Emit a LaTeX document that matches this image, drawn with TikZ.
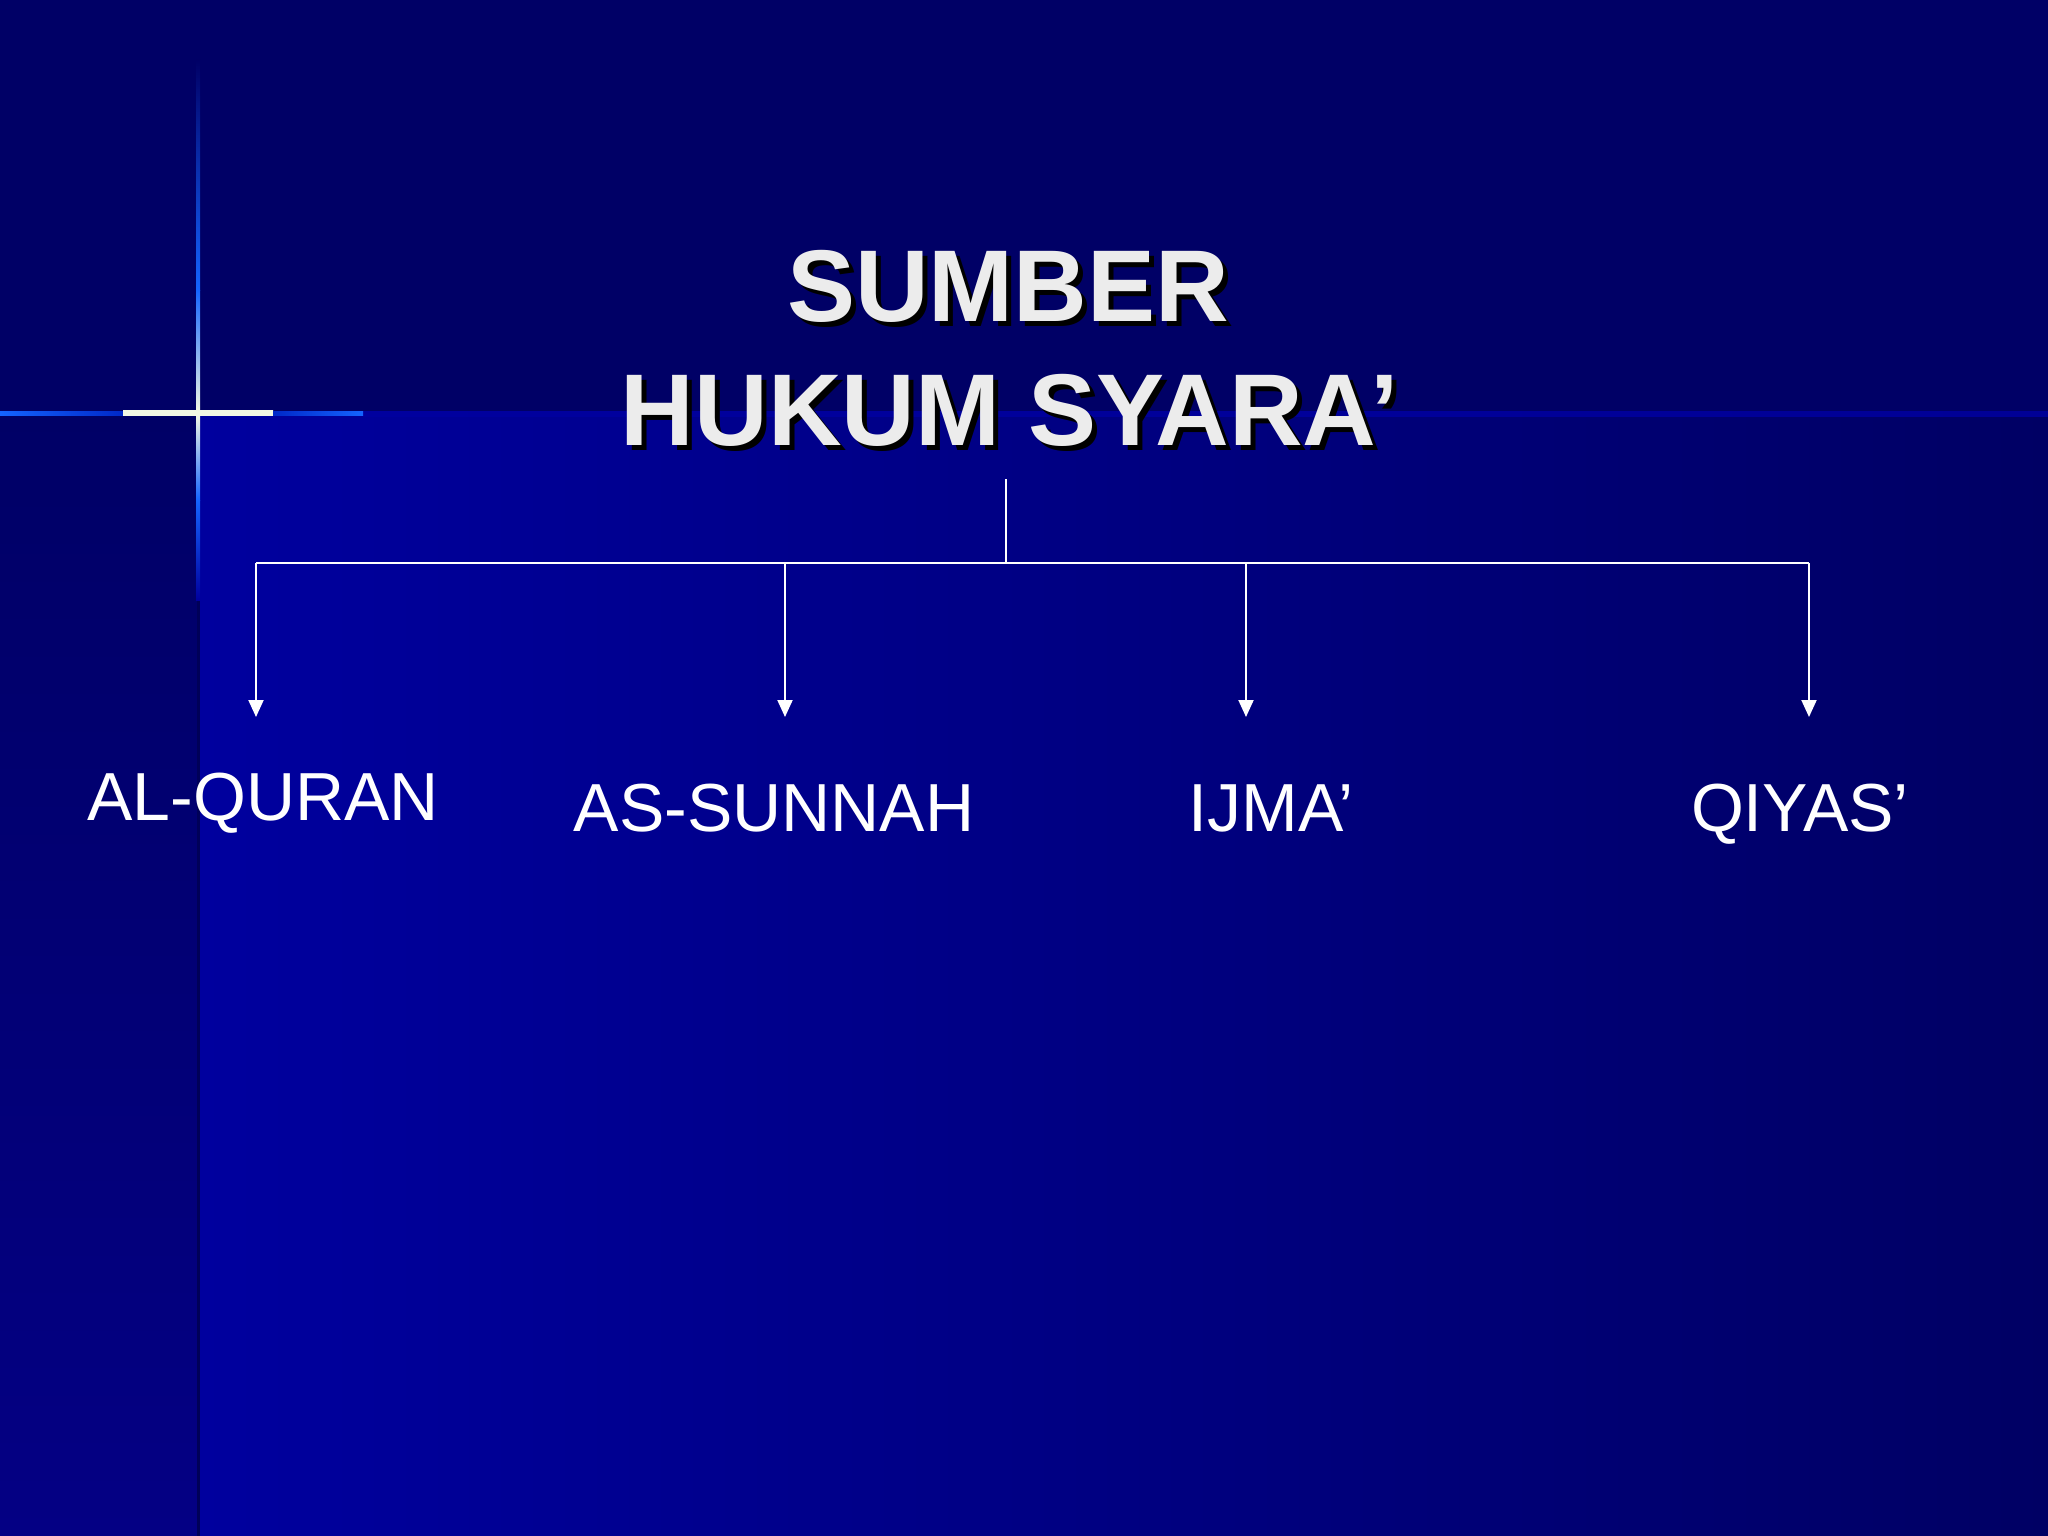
\documentclass[tikz,border=0pt]{standalone}
\usepackage{fontspec}
\setmainfont{Liberation Sans}
\usetikzlibrary{arrows.meta}
\definecolor{topnavy}{RGB}{0,0,102}
\definecolor{panelL}{RGB}{0,0,158}
\definecolor{panelM}{RGB}{0,0,140}
\definecolor{panelR}{RGB}{0,0,100}
\definecolor{stripB}{RGB}{4,0,132}
\definecolor{edgeline}{RGB}{0,0,150}
\definecolor{divline}{RGB}{0,0,88}
\definecolor{glow}{RGB}{20,100,255}
\definecolor{glowdim}{RGB}{0,40,200}
\definecolor{glowwhite}{RGB}{242,248,228}
\definecolor{titlewhite}{RGB}{236,236,236}
\newcommand\shadowed[1]{\rlap{\hspace{5pt}\raisebox{-5pt}{\color{black}#1}}#1}
\begin{document}
\begin{tikzpicture}[x=1pt,y=-1pt,
  titletext/.style={font=\fontsize{102}{124}\selectfont\bfseries, text=titlewhite, inner sep=0pt},
  labeltext/.style={font=\fontsize{68}{80}\selectfont, text=white, inner sep=0pt},
  conn/.style={draw=white, line width=2pt},
  arrowconn/.style={conn, -{Triangle[width=15pt,length=17pt]}}]
\useasboundingbox (0,0) rectangle (2048,1536);
% background
\fill[topnavy] (0,0) rectangle (2048,413);
\shade[top color=topnavy, bottom color=stripB] (0,413) rectangle (198,1536);
\shade[left color=panelL, middle color=panelM, right color=panelR] (198,413) rectangle (2048,1536);
\draw[line width=3pt, divline] (198,600) -- (198,1536);
\shade[left color=panelL, right color=edgeline] (363,411) rectangle (2048,416);
% glowing cross
\shade[left color=glow, right color=glowdim] (0,411) rectangle (123,415);
\shade[left color=glowwhite, middle color=glow!55!white, right color=glowwhite] (123,410.5) rectangle (273,415.5);
\shade[left color=glowdim, right color=glow] (273,411) rectangle (363,415);
\shade[top color=topnavy, bottom color=glow] (196,60) rectangle (200,290);
\shade[top color=glow, bottom color=glowwhite] (196,290) rectangle (200,411);
\shade[top color=glowwhite, bottom color=glow] (196,415) rectangle (200,500);
\shade[top color=glow, bottom color=panelL] (196,500) rectangle (200,600);
% title
\node[titletext, anchor=base] (title1) at (1008,321) {\shadowed{SUMBER}};
\node[titletext, anchor=base, inner ysep=28pt] (title2) at (1010,445) {\shadowed{HUKUM SYARA’}};
% labels
\node[labeltext, anchor=base] (alquran) at (263,820) {AL-QURAN};
\node[labeltext, anchor=base] (assunnah) at (774,831) {AS-SUNNAH};
\node[labeltext, anchor=base] (ijma) at (1271,831) {IJMA’};
\node[labeltext, anchor=base] (qiyas) at (1800,831) {QIYAS’};
% connector points
\coordinate (hub) at (1006,563);
\coordinate (j1) at (256,563);
\coordinate (j2) at (785,563);
\coordinate (j3) at (1246,563);
\coordinate (j4) at (1809,563);
\coordinate (t1) at (256,717);
\coordinate (t2) at (785,717);
\coordinate (t3) at (1246,717);
\coordinate (t4) at (1809,717);
% connectors
\draw[conn] (hub |- title2.south) -- (hub);
\draw[conn] (j1) -- (j4);
\draw[arrowconn] (j1) -- (t1);
\draw[arrowconn] (j2) -- (t2);
\draw[arrowconn] (j3) -- (t3);
\draw[arrowconn] (j4) -- (t4);
\end{tikzpicture}
\end{document}
